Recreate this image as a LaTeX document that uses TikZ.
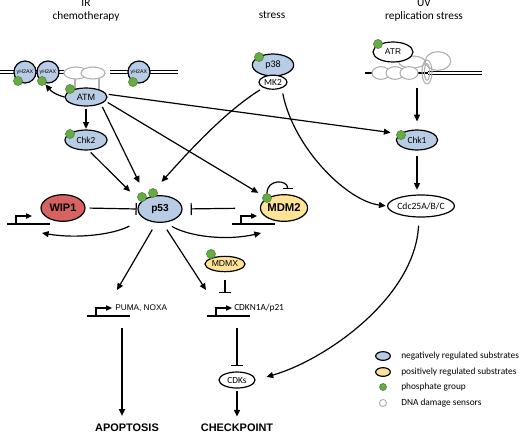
\documentclass[tikz,border=0pt]{standalone}
\usepackage{fontspec}
\setmainfont{Carlito}
\setsansfont{Carlito}
\newfontfamily\arialfont{Liberation Sans}
\usepackage{tikz}
\usetikzlibrary{shapes,arrows.meta,positioning,calc}
\definecolor{negblue}{RGB}{184,204,230}
\definecolor{posyellow}{RGB}{255,228,150}
\definecolor{wipred}{RGB}{214,98,98}
\definecolor{phosgreen}{RGB}{104,170,68}
\definecolor{sensorgrey}{RGB}{175,175,175}

\begin{document}
\begin{tikzpicture}[
    x=0.75pt, y=-0.75pt,
    protein/.style={ellipse, draw=black, line width=0.9pt, inner sep=0pt, font=\fontsize{7}{8}\selectfont},
    negative/.style={protein, fill=negblue},
    positive/.style={protein, fill=posyellow},
    plain/.style={protein, fill=white},
    arialtext/.style={font=\arialfont\fontsize{#1}{#1}\selectfont},
    arialbold/.style={font=\arialfont\bfseries\fontsize{#1}{#1}\selectfont},
    gh2ax/.style={circle, draw=black, line width=0.9pt, fill=negblue, minimum size=16.5pt, inner sep=0pt, font=\arialfont\fontsize{4}{4}\selectfont},
    phospho/.style={circle, fill=phosgreen, draw=phosgreen!75!black, line width=0.4pt, inner sep=0pt, minimum size=6.8pt},
    sensor/.style={ellipse, draw=sensorgrey, line width=0.8pt, fill=white, inner sep=0pt},
    dna/.style={draw=black, line width=0.9pt, double, double distance=1.4pt},
    arrow/.style={-{Triangle[length=5pt, width=4.5pt]}, line width=0.9pt},
    inhibit/.style={-{Bar[width=9pt, line width=0.9pt]}, line width=0.9pt},
    gene/.style={line width=0.9pt},
    title/.style={font=\fontsize{8.5}{9.5}\selectfont, align=center, inner sep=0pt, anchor=north},
    outcome/.style={arialbold=8.2, inner sep=0pt},
    legendtext/.style={font=\fontsize{7}{8}\selectfont, anchor=west, inner sep=0pt}
]
    \useasboundingbox (0,0) rectangle (520,433);
    \fill[white] (0,0) rectangle (520,433);

    % damage signals
    \node[title] (irtitle) at (86,-1) {IR\\chemotherapy};
    \node[title] (stresstitle) at (272,11.5) {stress};
    \node[title] (uvtitle) at (424,-1) {UV\\replication stress};

    % IR / ATM side of the DNA
    \draw[dna] (0,72) -- (64,72);
    \draw[dna] (110,72) -- (178,72);
    \draw[sensorgrey, line width=0.8pt, fill=white] (75,74) rectangle (99,92);
    \node[sensor, minimum width=18pt, minimum height=9pt] (atmsensa) at (76,73) {};
    \node[sensor, minimum width=18pt, minimum height=9pt] (atmsensb) at (93,73) {};
    \node[gh2ax] (gha) at (25,72) {γH2AX};
    \node[gh2ax] (ghb) at (48,72) {γH2AX};
    \node[gh2ax] (ghc) at (139,72) {γH2AX};
    \node[phospho] (ghap) at (18,81) {};
    \node[phospho] (ghbp) at (42,81) {};
    \node[phospho] (ghcp) at (133,82) {};

    \node[negative, minimum width=31.5pt, minimum height=13.5pt, arialtext=6.8] (atm) at (86,97) {ATM};
    \node[phospho] (atmp) at (70,89) {};

    \node[negative, minimum width=31.5pt, minimum height=15pt] (chk2) at (86,140) {Chk2};
    \node[phospho] (chk2p) at (70,134) {};

    % UV / ATR side of the DNA
    \draw[black, line width=0.9pt] (365,73) -- (428,73);
    \draw[dna] (428,73) -- (482,73);
    \node[sensor, minimum width=19pt, minimum height=14pt] (atrsensd) at (438,61) {};
    \node[sensor, minimum width=20pt, minimum height=9pt] (atrsense) at (412,62) {};
    \node[sensor, minimum width=13.5pt, minimum height=9.5pt] (atrsensa) at (381,73) {};
    \node[sensor, minimum width=13.5pt, minimum height=9.5pt] (atrsensb) at (395,73) {};
    \node[sensor, minimum width=13.5pt, minimum height=9.5pt] (atrsensc) at (409,73) {};
    \node[ellipse, draw=sensorgrey, line width=0.8pt, minimum width=7.5pt, minimum height=18pt, inner sep=0pt] (clampout) at (427,72) {};
    \node[ellipse, draw=sensorgrey, line width=0.8pt, minimum width=4pt, minimum height=12.5pt, inner sep=0pt] (clampin) at (427,72) {};
    \node[plain, minimum width=30pt, minimum height=15pt, arialtext=6.3] (atr) at (393,52) {ATR};
    \node[phospho] (atrp) at (378,44) {};
    \coordinate (atrdna) at (417,84);

    % stress kinases
    \node[negative, minimum width=31pt, minimum height=16.5pt, font=\fontsize{7.5}{8}\selectfont] (p38) at (273,65) {p38};
    \node[plain, minimum width=21pt, minimum height=10.5pt, below=-1.5pt of p38] (mk2) {MK2};
    \node[phospho] (p38p) at (259,57) {};

    \node[negative, minimum width=31pt, minimum height=15pt] (chk1) at (417,140) {Chk1};
    \node[phospho] (chk1p) at (401,135) {};
    \node[plain, minimum width=42pt, minimum height=16.5pt, font=\fontsize{7.2}{8}\selectfont] (cdc25) at (421,206) {Cdc25A/B/C};

    % p53 module
    \node[negative, minimum width=33pt, minimum height=20pt, arialbold=7.6] (p53) at (160,209) {p53};
    \node[phospho] (p53a) at (142,197) {};
    \node[phospho] (p53b) at (153,193) {};
    \node[protein, fill=wipred, minimum width=33pt, minimum height=20pt, arialbold=8.2] (wip1) at (63,208) {WIP1};
    \node[positive, minimum width=34pt, minimum height=20pt, arialbold=8.5] (mdm2) at (284,208) {MDM2};
    \node[phospho] (mdm2p) at (267,198) {};
    \node[positive, minimum width=30pt, minimum height=11.5pt, arialtext=6.5] (mdmx) at (225,264) {MDMX};
    \node[phospho] (mdmxp) at (211,254) {};

    % target genes
    \foreach \gx/\gy in {7/224, 232/224, 87/316, 207/316} {
        \draw[gene] (\gx,\gy) -- ++(43,0);
        \draw[gene, -{Triangle[length=4.5pt, width=4pt]}] (\gx+9,\gy) |- ++(16,-8);
    }
    \node[arialtext=6.2, anchor=west, inner sep=0pt] (puma) at (115,308) {PUMA, NOXA};
    \node[font=\fontsize{7}{8}\selectfont, anchor=west, inner sep=0pt] (cdkn) at (234,308) {CDKN1A/p21};
    \coordinate (wiptip) at (42,233);
    \coordinate (mdmtip) at (261,233);
    \coordinate (pumatip) at (117,290);
    \coordinate (cdkntip) at (206,290);
    \coordinate (mdmxbar) at (225,293);
    \coordinate (pumagene) at (122,316);
    \coordinate (cdkngene) at (237,316);

    \node[plain, minimum width=27pt, minimum height=12pt] (cdks) at (237,380) {CDKs};
    \node[outcome] (apop) at (127,428) {APOPTOSIS};
    \node[outcome] (check) at (237,428) {CHECKPOINT};

    % legend
    \node[negative, minimum width=11pt, minimum height=6.5pt] (legneg) at (383,356) {};
    \node[legendtext] (legnegtext) at (401,356) {negatively regulated substrates};
    \node[positive, minimum width=11pt, minimum height=6.5pt] (legpos) at (383,372) {};
    \node[legendtext] (legpostext) at (401,372) {positively regulated substrates};
    \node[phospho, minimum size=5.3pt] (legphos) at (383,387) {};
    \node[legendtext] (legphostext) at (401,387) {phosphate group};
    \node[circle, draw=sensorgrey, line width=0.7pt, minimum size=5.3pt, inner sep=0pt] (legsens) at (383,403) {};
    \node[legendtext] (legsenstext) at (401,403) {DNA damage sensors};

    % ATM signalling
    \draw[arrow] (atm.west) to[out=165, in=-50] (ghbp.-45);
    \draw[arrow, shorten <=1.5pt, shorten >=0.5pt] (atm.south) -- (chk2.north);
    \draw[arrow, shorten <=2.5pt, shorten >=12.5pt] (atm.-25) -- (p53.140);
    \draw[arrow, shorten <=2pt, shorten >=11pt] (chk2.-75) -- (p53.160);
    \draw[arrow, shorten <=2pt, shorten >=4pt] (atm.-12) -- (mdm2p.150);
    \draw[arrow, shorten <=1.5pt, shorten >=4.5pt] (atm.8) -- (chk1p.160);

    % stress and ATR signalling
    \draw[arrow, shorten <=3pt, shorten >=7pt] (mk2.-150) .. controls +(-35,22) and +(40,-45) .. (p53b.60);
    \draw[arrow, shorten <=4pt, shorten >=1pt] (mk2.-35) .. controls +(12,60) and +(-40,-5) .. (cdc25.west);
    \draw[arrow, shorten <=3pt, shorten >=6pt] (atrdna) -- (atrdna |- chk1.north);
    \draw[arrow, shorten <=4pt, shorten >=3.5pt] (chk1.south) -- (chk1.south |- cdc25.north);
    \draw[arrow, shorten <=6pt, shorten >=8.5pt] (cdc25.-100) .. controls +(-4,80) and +(70,-20) .. (cdks.east);

    % p53 feedback
    \draw[inhibit, shorten <=3pt, shorten >=0.5pt] (wip1.east) -- (p53.west);
    \draw[inhibit, shorten <=18.5pt, shorten >=6pt] (mdm2.west) -- (p53.east);
    \draw[-{Bar[width=7.5pt, line width=0.9pt]}, line width=0.9pt, shorten >=4pt] (mdm2p.north) to[out=90, in=90, looseness=1.8] (mdm2.75);
    \draw[arrow, shorten <=12pt] (p53.-150) .. controls +(-30,16) and +(35,6) .. (wiptip);
    \draw[arrow, shorten <=6pt] (p53.-70) .. controls +(25,14) and +(-35,8) .. (mdmtip);

    % p53 targets and outcomes
    \draw[arrow, shorten <=6pt] (p53.-105) -- (pumatip);
    \draw[arrow, shorten <=6pt] (p53.-80) -- (cdkntip);
    \draw[inhibit, shorten <=6pt] (mdmx.south) -- (mdmxbar);
    \draw[inhibit, shorten <=9pt, shorten >=3.7pt] (cdkngene) -- (cdks.north);
    \draw[arrow, shorten <=9pt, shorten >=6pt] (pumagene) -- (pumagene |- apop.north);
    \draw[arrow, shorten <=2pt, shorten >=5.5pt] (cdks.south) -- (cdks.south |- check.north);
\end{tikzpicture}
\end{document}
